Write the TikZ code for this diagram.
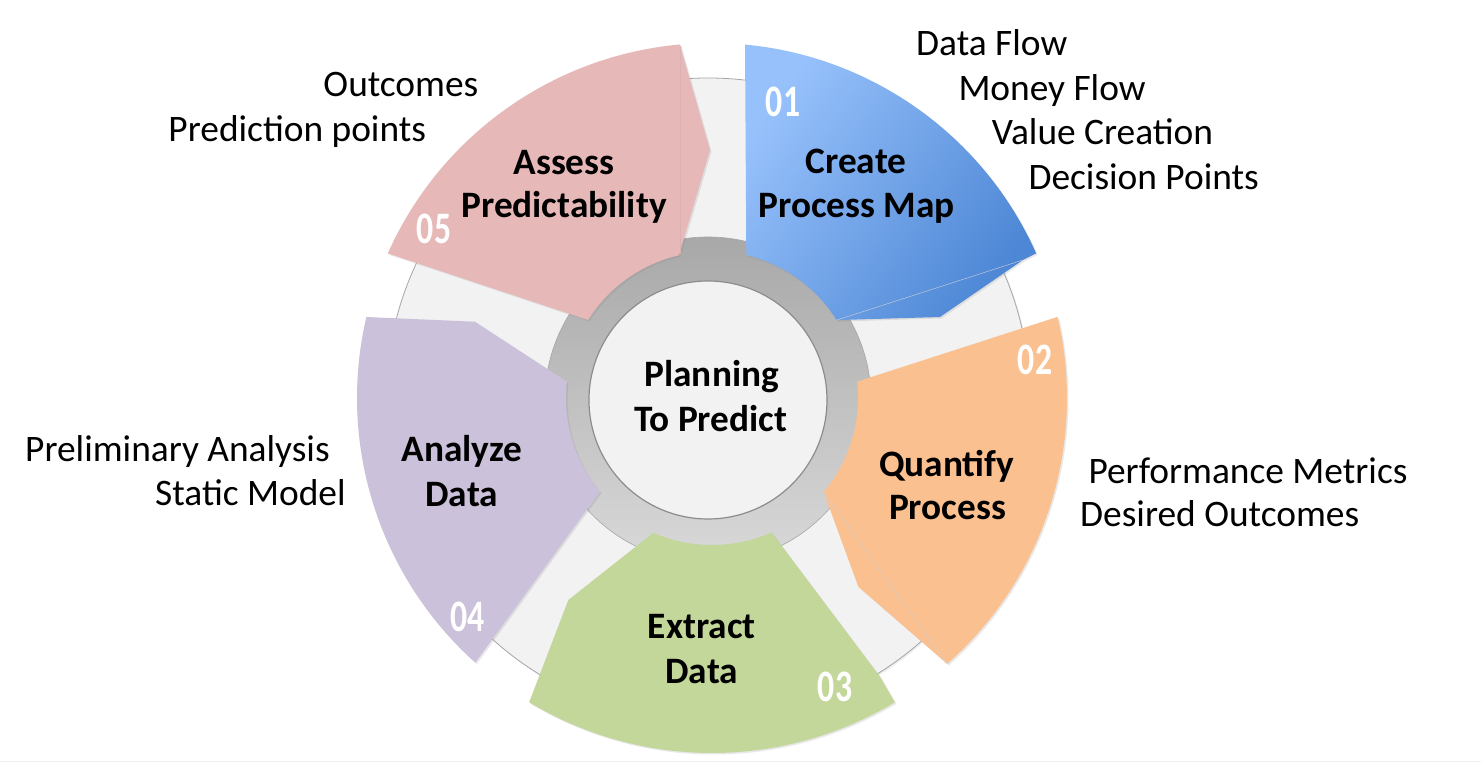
\documentclass[tikz,border=0pt]{standalone}
\usepackage{fontspec}
\setmainfont{Carlito}
\usetikzlibrary{shadows}
\definecolor{pinkc}{HTML}{E6B9B8}
\definecolor{bluel}{HTML}{97C1FB}
\definecolor{blued}{HTML}{4D87D5}
\definecolor{orangec}{HTML}{FAC090}
\definecolor{greenc}{HTML}{C4D79B}
\definecolor{purplec}{HTML}{CCC1DA}
\definecolor{diskc}{HTML}{F2F2F2}
\definecolor{diskb}{HTML}{A6A6A6}
\definecolor{ringt}{HTML}{A8A8A8}
\definecolor{ringb}{HTML}{D9D9D9}
\definecolor{innerb}{HTML}{8C8C8C}
\begin{document}
\begin{tikzpicture}[x=1pt,y=1pt,
  seg/.style={draw=none, drop shadow={shadow xshift=1.5pt, shadow yshift=-1.5pt, opacity=0.18}},
  lbl/.style={font=\fontsize{37.3}{37.3}\selectfont\bfseries, anchor=base, inner sep=0pt},
  txt/.style={font=\fontsize{37.4}{37.4}\selectfont, anchor=base west, inner sep=0pt},
  num/.style={text=white, anchor=base, inner sep=0pt},
  seam/.style={draw=gray!35, line width=0.4pt}
]
\useasboundingbox (-712,-364) rectangle (769,398);
\fill[white] (-712,-364) rectangle (769,398);
\draw[gray!12, line width=1pt] (-712,-363.5) -- (769,-363.5);

% rings
\fill[diskc, draw=diskb, line width=0.8pt, drop shadow={shadow xshift=1.5pt, shadow yshift=-1.5pt, opacity=0.15}] (-4,-2) circle[radius=322];
\shade[top color=ringt, bottom color=ringb, draw=gray!70, line width=0.6pt] (-4,-2) circle[radius=163];
\fill[diskc, draw=innerb, line width=1.2pt] (-4,-2) circle[radius=119];

% segments
\shade[seg, top color=bluel, bottom color=blued, shading angle=55]
  (84.66:355) arc[start angle=84.66, end angle=24.04, radius=355]
  -- (311,138) -- (228,81) -- (32:147)
  arc[start angle=32, end angle=76.5, radius=147] -- cycle;
\draw[seam] (311,138) -- (125,78);

\fill[seg, pinkc] (95.18:355) arc[start angle=95.18, end angle=155.96, radius=355]
  -- (147.8:146.5) arc[start angle=147.8, end angle=103, radius=146.5]
  -- (-2,248) -- cycle;
\draw[seam, draw=pinkc!88!gray] (-32,352) -- (-32,144);

\fill[seg, purplec] (166.81:355) -- (-237,76.3) -- (173.6:146)
  arc[start angle=173.6, end angle=219.9, radius=146]
  -- (228.2:355) arc[start angle=228.2, end angle=166.81, radius=355] -- cycle;

\fill[seg, greenc] (246.46:147) arc[start angle=246.46, end angle=293.9, radius=147]
  -- (168,-278.7) -- (301:355) arc[start angle=301, end angle=239, radius=355]
  -- (-143.7,-202) -- cycle;

\fill[seg, orangec] (13.21:355) -- (6.43:146)
  arc[start angle=6.43, end angle=-40.09, radius=146]
  -- (146.3,-188.7) -- (-48.5:355) arc[start angle=-48.5, end angle=13.21, radius=355] -- cycle;
\draw[seam] (111.3,-93.7) -- (234.7,-265.3);

% numbers
\node[num] (n01) at (71,281.3) {\scalebox{0.75}[1]{\fontsize{45}{45}\selectfont\bfseries 01}};
\node[num] (n05) at (-278,154.7) {\scalebox{0.75}[1]{\fontsize{45}{45}\selectfont\bfseries 05}};
\node[num] (n02) at (323,23) {\scalebox{0.75}[1]{\fontsize{45}{45}\selectfont\bfseries 02}};
\node[num] (n03) at (123,-303.7) {\scalebox{0.75}[1]{\fontsize{45}{45}\selectfont\bfseries 03}};
\node[num] (n04) at (-244.5,-233.7) {\scalebox{0.75}[1]{\fontsize{45}{45}\selectfont\bfseries 04}};

% labels
\node[lbl] (l5a) at (-148,223) {Assess};
\node[lbl] (l5b) at (-148,180) {Predictability};
\node[lbl] (l1a) at (144,224.7) {Create};
\node[lbl] (l1b) at (144.7,180) {Process Map};
\node[lbl] (l2a) at (234.7,-78.7) {Quantify};
\node[lbl] (l2b) at (235.5,-122) {Process};
\node[lbl] (l3a) at (-10.3,-240.3) {Extract};
\node[lbl] (l3b) at (-10.3,-285.3) {Data};
\node[lbl] (l4a) at (-250.3,-63.7) {Analyze};
\node[lbl] (l4b) at (-250.3,-108.7) {Data};
\node[lbl] (c1) at (-0.3,11.3) {Planning};
\node[lbl] (c2) at (-1.2,-33.7) {To Predict};

% side texts
\node[txt] (t1) at (-388.7,301.3) {Outcomes};
\node[txt] (t2) at (-543.7,256.3) {Prediction points};
\node[txt] (t3) at (-687,-63.7) {Preliminary Analysis};
\node[txt] (t4) at (-557,-108) {Static Model};
\node[txt] (t5) at (204,342) {Data Flow};
\node[txt] (t6) at (246.3,297) {Money Flow};
\node[txt] (t7) at (279.7,253) {Value Creation};
\node[txt] (t8) at (316.3,208.7) {Decision Points};
\node[txt] (t9) at (376.3,-85.3) {Performance Metrics};
\node[txt] (t10) at (368,-128.7) {Desired Outcomes};
\end{tikzpicture}
\end{document}
